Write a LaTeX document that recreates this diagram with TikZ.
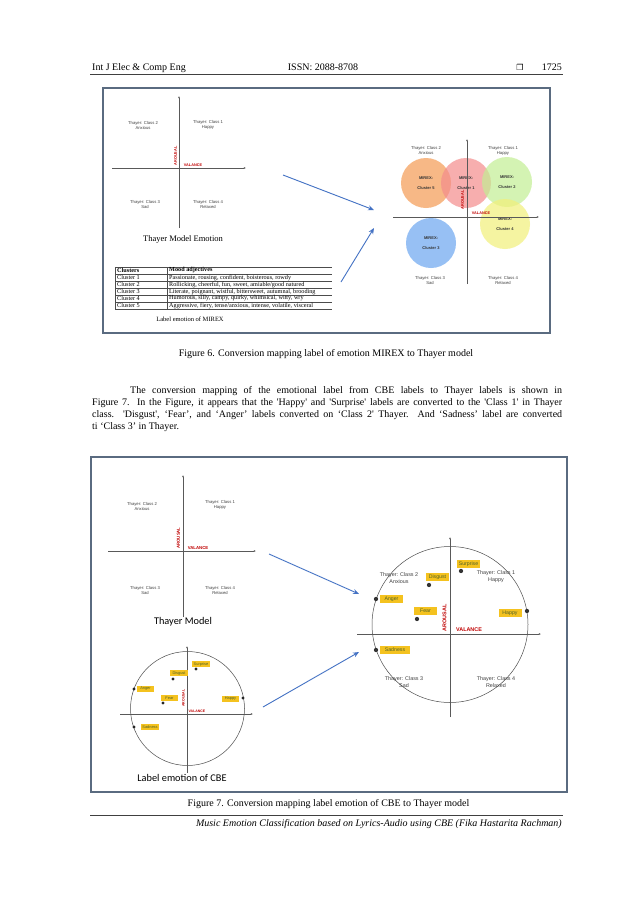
\documentclass[tikz,border=0pt]{standalone}
\usepackage{fontspec}
\setmainfont{Liberation Serif}
\newfontfamily\arialf{Liberation Sans}
\newfontfamily\calibrif{Carlito}
\newfontfamily\dejavuf{DejaVu Sans}
\usetikzlibrary{arrows.meta}
\definecolor{framecol}{HTML}{5A6B80}
\definecolor{mapblue}{HTML}{4472C4}
\definecolor{axred}{HTML}{C00000}
\definecolor{lblfill}{HTML}{F4C21F}
\definecolor{lbltext}{HTML}{4F6228}
\definecolor{thgray}{HTML}{404040}
\definecolor{corange}{HTML}{F59B53}
\definecolor{cpink}{HTML}{F48C8C}
\definecolor{cgreen}{HTML}{C3EE94}
\definecolor{cyellow}{HTML}{F2F07A}
\definecolor{cblue}{HTML}{6BA6F0}
\tikzset{
  pagetext/.style={font=\fontsize{10}{12.3}\selectfont, inner sep=0pt},
  framebox/.style={draw=framecol, line width=1.4pt},
  rulestyle/.style={draw=black!75, line width=0.7pt},
  axisline/.style={draw=black!65, line width=0.45pt, -{Latex[length=2.2pt,width=2pt]}},
  thA/.style={font=\arialf\fontsize{4.2}{5}\selectfont, text=thgray, align=center, inner sep=0pt},
  thB/.style={font=\arialf\fontsize{5.4}{7}\selectfont, text=thgray, align=center, inner sep=0pt},
  axA/.style={font=\arialf\bfseries\fontsize{3.8}{4}\selectfont, text=axred, inner sep=0pt},
  axB/.style={font=\arialf\bfseries\fontsize{5.4}{6}\selectfont, text=axred, inner sep=0pt},
  axC/.style={font=\arialf\bfseries\fontsize{4.3}{5}\selectfont, text=axred, inner sep=0pt},
  axD/.style={font=\arialf\bfseries\fontsize{3.5}{4}\selectfont, text=axred, inner sep=0pt},
  mapline/.style={draw=mapblue, line width=0.9pt, -{Stealth[length=6pt,width=5pt]}},
  mirex/.style={circle, minimum size=50pt, inner sep=0pt, fill opacity=0.7, text opacity=1, align=center, font=\arialf\bfseries\fontsize{4}{10.5}\selectfont, text=black!80},
  emoB/.style={fill=lblfill, text=lbltext, font=\arialf\fontsize{5.2}{6}\selectfont, inner sep=0pt, minimum width=23pt, minimum height=8pt},
  emoS/.style={fill=lblfill, text=lbltext, font=\arialf\fontsize{3.9}{4.5}\selectfont, inner sep=0pt, minimum width=17.5pt, minimum height=6pt},
  dotB/.style={circle, fill=black!80, inner sep=0pt, minimum size=4.3pt},
  dotS/.style={circle, fill=black!85, inner sep=0pt, minimum size=3.2pt},
  tabtext/.style={font=\fontsize{6.2}{7}\selectfont, inner sep=0pt, anchor=west},
  wheel/.style={draw=black!70, line width=0.5pt},
}
\begin{document}
\begin{tikzpicture}[x=1pt,y=-1pt]
\useasboundingbox (0,0) rectangle (638,902);
\fill[white] (0,0) rectangle (638,902);

% ---------- header ----------
\node[pagetext, anchor=base west] (hleft) at (92,70) {Int J Elec \& Comp Eng};
\node[pagetext, anchor=base] (hmid) at (323,70) {ISSN: 2088-8708};
\node[font=\dejavuf\fontsize{8}{8}\selectfont, inner sep=0pt, anchor=base] (hsq) at (520,70) {❒};
\node[pagetext, anchor=base east] (hright) at (562,70) {1725};
\coordinate (hr1) at (90,74.5);
\coordinate (hr2) at (563,74.5);
\draw[rulestyle] (hr1) -- (hr2);

% ---------- Figure 6 ----------
\draw[framebox] (103,88) rectangle (550,333);

% left Thayer model
\coordinate (f6vb) at (179,228);
\coordinate (f6vt) at (179,96);
\coordinate (f6hl) at (112,168);
\coordinate (f6hr) at (246,168);
\draw[axisline] (f6vb) -- (f6vt);
\draw[axisline] (f6hl) -- (f6hr);
\node[thA] (f6c2) at (143,125.5) {Thayer: Class 2\\Anxious};
\node[thA] (f6c1) at (208,124.5) {Thayer: Class 1\\Happy};
\node[thA] (f6c3) at (145,204.5) {Thayer: Class 3\\Sad};
\node[thA] (f6c4) at (208,204.5) {Thayer: Class 4\\Relaxed};
\node[axA, rotate=90] (f6ar) at (175.5,156) {AROUSAL};
\node[axA] (f6va) at (193,165.5) {VALANCE};
\node[font=\fontsize{8.5}{9}\selectfont, inner sep=0pt] (f6title) at (183,239) {Thayer Model Emotion};

% table
\foreach \yy in {267,274,281,288,295,302,309}{
  \draw[black!70, line width=0.35pt] (115,\yy) -- (332,\yy);
}
\draw[black!70, line width=0.35pt] (115,267) -- (115,309);
\draw[black!70, line width=0.35pt] (167,267) -- (167,309);
\node[tabtext, font=\bfseries\fontsize{6.2}{7}\selectfont] (th1) at (117,270.5) {Clusters};
\node[tabtext, font=\bfseries\fontsize{6.2}{7}\selectfont] (th2) at (169,270.5) {Mood adjectives};
\node[tabtext] (tc1) at (117,277.5) {Cluster 1};
\node[tabtext] (tm1) at (169,277.5) {Passionate, rousing, confident, boisterous, rowdy};
\node[tabtext] (tc2) at (117,284.5) {Cluster 2};
\node[tabtext] (tm2) at (169,284.5) {Rollicking, cheerful, fun, sweet, amiable/good natured};
\node[tabtext] (tc3) at (117,291.5) {Cluster 3};
\node[tabtext] (tm3) at (169,291.5) {Literate, poignant, wistful, bittersweet, autumnal, brooding};
\node[tabtext] (tc4) at (117,298.5) {Cluster 4};
\node[tabtext] (tm4) at (169,298.5) {Humorous, silly, campy, quirky, whimsical, witty, wry};
\node[tabtext] (tc5) at (117,305.5) {Cluster 5};
\node[tabtext] (tm5) at (169,305.5) {Aggressive, fiery, tense/anxious, intense, volatile, visceral};
\node[font=\fontsize{6.5}{7}\selectfont, inner sep=0pt] (f6tab) at (190,319) {Label emotion of MIREX};

% right: MIREX clusters on Thayer
\node[mirex, fill=corange] (m5) at (426,183) {MIREX:\\Cluster 5};
\node[mirex, fill=cpink] (m1) at (466,183) {MIREX:\\Cluster 1};
\node[mirex, fill=cgreen] (m2) at (507,182) {MIREX:\\Cluster 2};
\node[mirex, fill=cyellow] (m4) at (505,224) {MIREX:\\Cluster 4};
\node[mirex, fill=cblue] (m3) at (431,243) {MIREX:\\Cluster 3};
\coordinate (f6rvb) at (467,284);
\coordinate (f6rvt) at (467,139);
\coordinate (f6rhl) at (393,217);
\coordinate (f6rhr) at (539,217);
\draw[axisline] (f6rvb) -- (f6rvt);
\draw[axisline] (f6rhl) -- (f6rhr);
\node[thA] (f6rc2) at (426,150.5) {Thayer: Class 2\\Anxious};
\node[thA] (f6rc1) at (503,150.5) {Thayer: Class 1\\Happy};
\node[thA] (f6rc3) at (430,280.5) {Thayer: Class 3\\Sad};
\node[thA] (f6rc4) at (503,280.5) {Thayer: Class 4\\Relaxed};
\node[axA, rotate=90] (f6rar) at (462.5,200) {AROUSAL};
\node[axA] (f6rva) at (481,213.5) {VALANCE};

% mapping arrows fig 6
\coordinate (a1s) at (283,175);
\coordinate (a1e) at (374,210);
\coordinate (a2s) at (341,282);
\coordinate (a2e) at (374,228);
\draw[mapline] (a1s) -- (a1e);
\draw[mapline] (a2s) -- (a2e);

\node[pagetext, anchor=base] (cap6) at (326,356) {Figure 6. Conversion mapping label of emotion MIREX to Thayer model};

% ---------- paragraph ----------
\node[pagetext, anchor=base west] (p1) at (130,393) {\makebox[432pt][s]{The conversion mapping of the emotional label from CBE labels to Thayer labels is shown in}};
\node[pagetext, anchor=base west] (p2) at (92,405.3) {\makebox[470pt][s]{Figure 7. In the Figure, it appears that the \textquotesingle Happy\textquotesingle{} and \textquotesingle Surprise\textquotesingle{} labels are converted to the \textquotesingle Class 1\textquotesingle{} in Thayer}};
\node[pagetext, anchor=base west] (p3) at (92,417.6) {\makebox[470pt][s]{class. \textquotesingle Disgust\textquotesingle, ‘Fear’, and ‘Anger’ labels converted on ‘Class 2\textquotesingle{} Thayer. And ‘Sadness’ label are converted}};
\node[pagetext, anchor=base west] (p4) at (92,429.9) {ti ‘Class 3’ in Thayer.};

% ---------- Figure 7 ----------
\draw[framebox] (91,457) rectangle (567,792);

% left Thayer model
\coordinate (f7vb) at (183,617);
\coordinate (f7vt) at (183,475);
\coordinate (f7hl) at (108,551);
\coordinate (f7hr) at (256,551);
\draw[axisline] (f7vb) -- (f7vt);
\draw[axisline] (f7hl) -- (f7hr);
\node[thA] (f7c2) at (142,506.5) {Thayer: Class 2\\Anxious};
\node[thA] (f7c1) at (220,504.5) {Thayer: Class 1\\Happy};
\node[thA] (f7c3) at (145,590.5) {Thayer: Class 3\\Sad};
\node[thA] (f7c4) at (220,590.5) {Thayer: Class 4\\Relaxed};
\node[axC, rotate=90] (f7ar) at (178.5,538) {AROUSAL};
\node[axC] (f7va) at (198,548) {VALANCE};
\node[font=\calibrif\fontsize{10.3}{11}\selectfont, inner sep=0pt] (f7title) at (183,622) {Thayer Model};

% small CBE wheel
\node[wheel, circle, minimum size=114pt, inner sep=0pt] (sw) at (187.5,708.5) {};
\coordinate (swvb) at (187,773);
\coordinate (swvt) at (187,646);
\coordinate (swhl) at (120,714);
\coordinate (swhr) at (253,714);
\draw[axisline] (swvb) -- (swvt);
\draw[axisline] (swhl) -- (swhr);
\node[emoS] (sSur) at (201,664) {Surprise};
\node[dotS] (sdSur) at (196,669) {};
\node[emoS] (sDis) at (179,673) {Disgust};
\node[dotS] (sdDis) at (173,679) {};
\node[emoS] (sAng) at (145.5,689) {Anger};
\node[dotS] (sdAng) at (134,689) {};
\node[emoS] (sFea) at (169.5,698) {Fear};
\node[dotS] (sdFea) at (163,703) {};
\node[emoS] (sHap) at (230.5,699) {Happy};
\node[dotS] (sdHap) at (243,698) {};
\node[emoS] (sSad) at (150,727) {Sadness};
\node[dotS] (sdSad) at (134,727) {};
\node[axD, rotate=90] (swar) at (183.5,698) {AROUSAL};
\node[axD] (swva) at (197,711.5) {VALANCE};
\node[font=\calibrif\fontsize{10.3}{11}\selectfont, inner sep=0pt] (f7cbe) at (182,778) {Label emotion of CBE};

% big wheel on Thayer
\node[wheel, circle, minimum size=156pt, inner sep=0pt] (bw) at (450,624.5) {};
\coordinate (bwvb) at (450,717);
\coordinate (bwvt) at (450,537);
\coordinate (bwhl) at (357,634);
\coordinate (bwhr) at (541,634);
\draw[axisline] (bwvb) -- (bwvt);
\draw[axisline] (bwhl) -- (bwhr);
\node[thB] (bc2) at (399,578.5) {Thayer: Class 2\\Anxious};
\node[thB] (bc1) at (496,576.5) {Thayer: Class 1\\Happy};
\node[thB] (bc3) at (404,682.5) {Thayer: Class 3\\Sad};
\node[thB] (bc4) at (496,682.5) {Thayer: Class 4\\Relaxed};
\node[emoB] (bSur) at (468.5,564) {Surprise};
\node[dotB] (bdSur) at (461,571) {};
\node[emoB] (bDis) at (437.5,577) {Disgust};
\node[dotB] (bdDis) at (429,585) {};
\node[emoB] (bAng) at (391.5,599) {Anger};
\node[dotB] (bdAng) at (376,599) {};
\node[emoB] (bFea) at (425.5,611) {Fear};
\node[dotB] (bdFea) at (417,619) {};
\node[emoB] (bHap) at (510,613) {Happy};
\node[dotB] (bdHap) at (527,611) {};
\node[emoB, minimum width=30pt] (bSad) at (395,650) {Sadness};
\node[dotB] (bdSad) at (376,650) {};
\node[axB, rotate=90] (bwar) at (444.5,618) {AROUSAL};
\node[axB] (bwva) at (469,630) {VALANCE};

% mapping arrows fig 7
\coordinate (b1s) at (269,554);
\coordinate (b1e) at (359,594);
\coordinate (b2s) at (263,707);
\coordinate (b2e) at (359,652);
\draw[mapline] (b1s) -- (b1e);
\draw[mapline] (b2s) -- (b2e);

\node[pagetext, anchor=base] (cap7) at (328.5,806) {Figure 7. Conversion mapping label emotion of CBE to Thayer model};

% ---------- footer ----------
\coordinate (fr1) at (90,815);
\coordinate (fr2) at (563,815);
\draw[rulestyle] (fr1) -- (fr2);
\node[pagetext, font=\itshape\fontsize{10}{12}\selectfont, anchor=base east] (foot) at (562,826) {Music Emotion Classification based on Lyrics-Audio using CBE (Fika Hastarita Rachman)};
\end{tikzpicture}
\end{document}
